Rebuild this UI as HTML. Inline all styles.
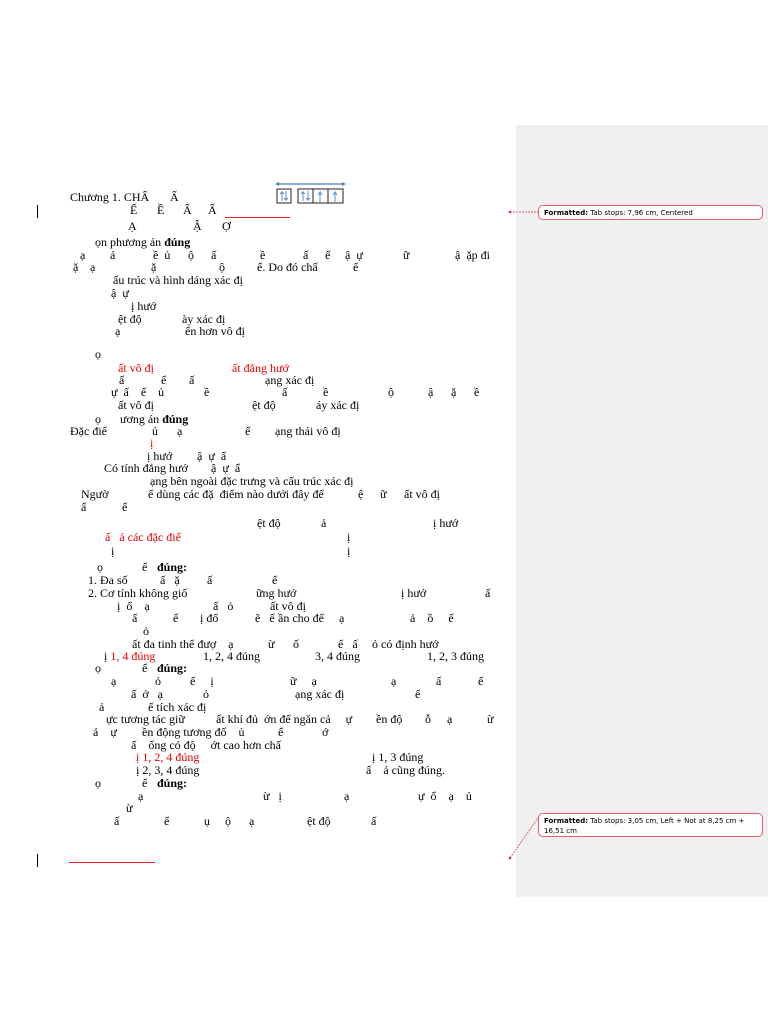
<!DOCTYPE html>
<html><head><meta charset="utf-8"><style>
body{margin:0;width:768px;height:1024px;position:relative;background:#fff;overflow:hidden;font-family:"Liberation Serif",serif;font-size:12px;color:#000}
.t{position:absolute;white-space:pre;line-height:14px}
.r{color:#e00}
b{font-weight:bold}
.c{position:absolute;left:538px;width:225px;border:1px solid #e06070;border-radius:5px;background:#fff;font-family:"DejaVu Sans",sans-serif;font-size:7px;padding:2px 5px;box-sizing:border-box;line-height:10px}
</style></head><body>
<div style="position:absolute;left:516px;top:125px;width:252px;height:772px;background:#f0f0f0"></div>
<div style="position:absolute;left:37px;top:205px;width:1px;height:13px;background:#000"></div>
<div style="position:absolute;left:37px;top:854px;width:1px;height:13px;background:#000"></div>
<div style="position:absolute;left:225px;top:217px;width:65px;height:1px;background:#e22"></div>
<div style="position:absolute;left:69px;top:862px;width:86px;height:1px;background:#e22"></div>
<svg style="position:absolute;left:270px;top:178px" width="80" height="30">
<line x1="7" y1="6" x2="74" y2="6" stroke="#4a7cc0" stroke-width="1.2"/>
<path d="M5 6 l4 -2 v4z M76 6 l-4 -2 v4z" fill="#4a7cc0"/>
<rect x="7" y="11" width="14" height="14" fill="none" stroke="#222"/>
<rect x="28" y="11" width="15" height="14" fill="none" stroke="#222"/>
<rect x="43" y="11" width="15" height="14" fill="none" stroke="#222"/>
<rect x="58" y="11" width="15" height="14" fill="none" stroke="#222"/>
<g stroke="#5b8fd0" fill="none" stroke-width="1"><path d="M12 23V14l-2 2M12 14l2 2M16 13v9l-2-2M16 22l2-2M33 23V14l-2 2M33 14l2 2M38 13v9l-2-2M38 22l2-2M50 24V14l-2 3M50 14l2 3M65 24V14l-2 3M65 14l2 3"/></g>
</svg>
<svg style="position:absolute;left:0;top:0" width="768" height="1024">
<line x1="510" y1="212" x2="538" y2="212" stroke="#e06070" stroke-dasharray="2,1"/>
<circle cx="510" cy="212" r="1.3" fill="#e03040"/>
<line x1="510" y1="858" x2="540" y2="815" stroke="#e06070" stroke-dasharray="2,1"/>
<circle cx="510" cy="858" r="1.3" fill="#e03040"/>
</svg>
<div class="c" style="top:205px;height:15px"><b>Formatted:</b> Tab stops:  7,96 cm, Centered</div>
<div class="c" style="top:813px;height:24px"><b>Formatted:</b> Tab stops:  3,05 cm, Left + Not at  8,25 cm + 16,51 cm</div>

<div class="t" style="left:70px;top:190px">Chương 1. CHẤ</div><div class="t" style="left:170px;top:190px">Ấ</div>
<div class="t" style="left:130px;top:203px">Ế</div><div class="t" style="left:157px;top:203px">Ề</div><div class="t" style="left:183px;top:203px">Ấ</div><div class="t" style="left:208px;top:203px">Ấ</div>
<div class="t" style="left:128px;top:219px">Ạ</div><div class="t" style="left:193px;top:219px">Ậ</div><div class="t" style="left:222px;top:219px">Ợ</div>
<div class="t" style="left:95px;top:235px">ọn phương án <b>đúng</b></div>
<div class="t" style="left:80px;top:248px">ạ</div><div class="t" style="left:110px;top:248px">á</div><div class="t" style="left:153px;top:248px">ề  ủ</div><div class="t" style="left:188px;top:248px">ộ</div><div class="t" style="left:211px;top:248px">ấ</div><div class="t" style="left:260px;top:248px">ề</div><div class="t" style="left:303px;top:248px">ấ</div><div class="t" style="left:325px;top:248px">ế</div><div class="t" style="left:345px;top:248px">ậ  ự</div><div class="t" style="left:403px;top:248px">ữ</div><div class="t" style="left:455px;top:248px">ậ  ặp đi</div>
<div class="t" style="left:73px;top:260px">ặ</div><div class="t" style="left:90px;top:260px">ạ</div><div class="t" style="left:151px;top:260px">ặ</div><div class="t" style="left:219px;top:260px">ộ</div><div class="t" style="left:257px;top:260px">ể. Do đó chấ</div><div class="t" style="left:353px;top:260px">ể</div>
<div class="t" style="left:113px;top:273px">ấu trúc và hình dáng xác đị</div>
<div class="t" style="left:111px;top:286px">ậ  ự</div>
<div class="t" style="left:131px;top:299px">ị hướ</div>
<div class="t" style="left:118px;top:312px">ệt độ</div><div class="t" style="left:182px;top:312px">ày xác đị</div>
<div class="t" style="left:115px;top:324px">ạ</div><div class="t" style="left:185px;top:324px">ến hơn vô đị</div>
<div class="t" style="left:95px;top:347px">ọ</div>
<div class="t r" style="left:118px;top:361px">ất vô đị</div><div class="t r" style="left:232px;top:361px">ất đẳng hướ</div>
<div class="t" style="left:119px;top:373px">ấ</div><div class="t" style="left:161px;top:373px">ể</div><div class="t" style="left:189px;top:373px">ấ</div><div class="t" style="left:265px;top:373px">ạng xác đị</div>
<div class="t" style="left:111px;top:385px">ự  ấ    ế    ủ</div><div class="t" style="left:204px;top:385px">ề</div><div class="t" style="left:282px;top:385px">ấ</div><div class="t" style="left:323px;top:385px">ề</div><div class="t" style="left:388px;top:385px">ộ</div><div class="t" style="left:428px;top:385px">ậ</div><div class="t" style="left:451px;top:385px">ặ</div><div class="t" style="left:474px;top:385px">ề</div>
<div class="t" style="left:118px;top:398px">ất vô đị</div><div class="t" style="left:252px;top:398px">ệt độ</div><div class="t" style="left:316px;top:398px">áy xác đị</div>
<div class="t" style="left:95px;top:412px">ọ</div><div class="t" style="left:120px;top:412px">ương án <b>đúng</b></div>
<div class="t" style="left:70px;top:424px">Đặc điể</div><div class="t" style="left:152px;top:424px">ủ</div><div class="t" style="left:177px;top:424px">ạ</div><div class="t" style="left:245px;top:424px">ể</div><div class="t" style="left:275px;top:424px">ạng thái vô đị</div>
<div class="t r" style="left:150px;top:436px">ị</div>
<div class="t" style="left:147px;top:449px">ị hướ</div><div class="t" style="left:197px;top:449px">ậ  ự  ẩ</div>
<div class="t" style="left:104px;top:461px">Có tính đẳng hướ</div><div class="t" style="left:211px;top:461px">ậ  ự  ẩ</div>
<div class="t" style="left:150px;top:474px">ạng bên ngoài đặc trưng và cấu trúc xác đị</div>
<div class="t" style="left:81px;top:487px">Ngườ</div><div class="t" style="left:148px;top:487px">ể dùng các đặ  điểm nào dưới đây để</div><div class="t" style="left:358px;top:487px">ệ</div><div class="t" style="left:380px;top:487px">ữ</div><div class="t" style="left:404px;top:487px">ất vô đị</div>
<div class="t" style="left:81px;top:500px">ấ</div><div class="t" style="left:122px;top:500px">ể</div>
<div class="t" style="left:257px;top:516px">ệt độ</div><div class="t" style="left:321px;top:516px">ả</div><div class="t" style="left:433px;top:516px">ị hướ</div>
<div class="t r" style="left:105px;top:530px">ấ   ả các đặc điể</div><div class="t" style="left:347px;top:530px">ị</div>
<div class="t" style="left:111px;top:544px">ị</div><div class="t" style="left:347px;top:544px">ị</div>
<div class="t" style="left:97px;top:560px">ọ</div><div class="t" style="left:142px;top:560px">ể</div><div class="t" style="left:157px;top:560px"><b>đúng:</b></div>
<div class="t" style="left:88px;top:573px">1. Đa số</div><div class="t" style="left:160px;top:573px">ấ   ặ</div><div class="t" style="left:207px;top:573px">ấ</div><div class="t" style="left:272px;top:573px">ể</div>
<div class="t" style="left:88px;top:586px">2. Cơ tính không giố</div><div class="t" style="left:256px;top:586px">ững hướ</div><div class="t" style="left:401px;top:586px">ị hướ</div><div class="t" style="left:485px;top:586px">ấ</div>
<div class="t" style="left:117px;top:599px">ị  ổ    ạ</div><div class="t" style="left:213px;top:599px">ấ   ỏ</div><div class="t" style="left:270px;top:599px">ất vô đị</div>
<div class="t" style="left:132px;top:611px">ấ</div><div class="t" style="left:173px;top:611px">ể</div><div class="t" style="left:200px;top:611px">ị đổ</div><div class="t" style="left:255px;top:611px">ẽ   ể</div><div class="t" style="left:278px;top:611px">ần cho đế     ạ</div><div class="t" style="left:410px;top:611px">ả    ồ     ế</div>
<div class="t" style="left:143px;top:624px">ỏ</div>
<div class="t" style="left:132px;top:637px">ất đa tinh thể đượ    ạ</div><div class="t" style="left:268px;top:637px">ừ</div><div class="t" style="left:293px;top:637px">ố</div><div class="t" style="left:338px;top:637px">ể   ấ</div><div class="t" style="left:372px;top:637px">ỏ có định hướ</div>
<div class="t" style="left:104px;top:649px">ị <span class="r">1, 4 đúng</span></div><div class="t" style="left:203px;top:649px">1, 2, 4 đúng</div><div class="t" style="left:315px;top:649px">3, 4 đúng</div><div class="t" style="left:427px;top:649px">1, 2, 3 đúng</div>
<div class="t" style="left:95px;top:661px">ọ</div><div class="t" style="left:142px;top:661px">ể</div><div class="t" style="left:157px;top:661px"><b>đúng:</b></div>
<div class="t" style="left:111px;top:674px">ạ</div><div class="t" style="left:155px;top:674px">ỏ</div><div class="t" style="left:190px;top:674px">ể     ị</div><div class="t" style="left:290px;top:674px">ữ     ạ</div><div class="t" style="left:391px;top:674px">ạ</div><div class="t" style="left:436px;top:674px">ấ</div><div class="t" style="left:478px;top:674px">ể</div>
<div class="t" style="left:131px;top:687px">ấ  ở   ạ</div><div class="t" style="left:203px;top:687px">ỏ</div><div class="t" style="left:295px;top:687px">ạng xác đị</div><div class="t" style="left:415px;top:687px">ế</div>
<div class="t" style="left:99px;top:700px">ả</div><div class="t" style="left:148px;top:700px">ể tích xác đị</div>
<div class="t" style="left:106px;top:712px">ực tương tác giữ</div><div class="t" style="left:216px;top:712px">ất khí đủ  ớn để ngăn cả     ự</div><div class="t" style="left:376px;top:712px">ền độ</div><div class="t" style="left:425px;top:712px">ỗ</div><div class="t" style="left:447px;top:712px">ạ</div><div class="t" style="left:487px;top:712px">ừ</div>
<div class="t" style="left:93px;top:725px">ả    ự</div><div class="t" style="left:142px;top:725px">ền động tương đố    ủ</div><div class="t" style="left:278px;top:725px">ể</div><div class="t" style="left:322px;top:725px">ớ</div>
<div class="t" style="left:131px;top:738px">ấ    ống có độ     ớt cao hơn chấ</div>
<div class="t r" style="left:136px;top:750px">ị 1, 2, 4 đúng</div><div class="t" style="left:372px;top:750px">ị 1, 3 đúng</div>
<div class="t" style="left:136px;top:763px">ị 2, 3, 4 đúng</div><div class="t" style="left:366px;top:763px">ấ    ả cũng đúng.</div>
<div class="t" style="left:95px;top:776px">ọ</div><div class="t" style="left:142px;top:776px">ể</div><div class="t" style="left:157px;top:776px"><b>đúng:</b></div>
<div class="t" style="left:138px;top:789px">ạ</div><div class="t" style="left:263px;top:789px">ừ   ị</div><div class="t" style="left:344px;top:789px">ạ</div><div class="t" style="left:418px;top:789px">ự  ổ    ạ    ủ</div>
<div class="t" style="left:126px;top:801px">ừ</div>
<div class="t" style="left:114px;top:814px">ấ</div><div class="t" style="left:164px;top:814px">ể</div><div class="t" style="left:204px;top:814px">ụ     ộ      ạ</div><div class="t" style="left:307px;top:814px">ệt độ</div><div class="t" style="left:371px;top:814px">ấ</div>
</body></html>
